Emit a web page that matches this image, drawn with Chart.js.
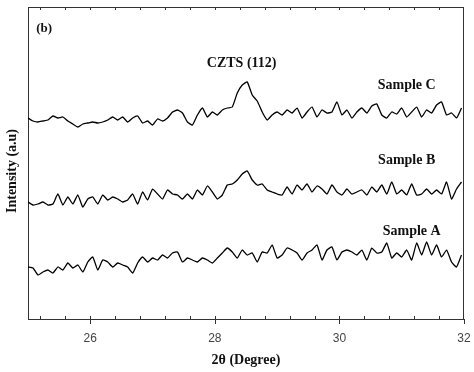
<!DOCTYPE html>
<html>
<head>
<meta charset="utf-8">
<script src="https://cdn.jsdelivr.net/npm/chart.js@4.4.0/dist/chart.umd.min.js"></script>
<style>
body { margin: 0; background: #fff; }
#wrap { width: 474px; height: 372px; }
</style>
</head>
<body>
<div id="wrap"><canvas id="xrd" width="474" height="372"></canvas></div>
<script>
// 2theta grid (degree)
const twoTheta = [
  25.00, 25.08, 25.16, 25.24, 25.32, 25.40, 25.48, 25.56, 25.64, 25.72,
  25.80, 25.88, 25.96, 26.04, 26.12, 26.20, 26.28, 26.36, 26.44, 26.52,
  26.60, 26.68, 26.76, 26.84, 26.92, 27.00, 27.08, 27.16, 27.24, 27.32,
  27.40, 27.48, 27.56, 27.64, 27.72, 27.80, 27.88, 27.96, 28.04, 28.12,
  28.20, 28.28, 28.36, 28.44, 28.52, 28.60, 28.68, 28.76, 28.84, 28.92,
  29.00, 29.08, 29.16, 29.24, 29.32, 29.40, 29.48, 29.56, 29.64, 29.72,
  29.80, 29.88, 29.96, 30.04, 30.12, 30.20, 30.28, 30.36, 30.44, 30.52,
  30.60, 30.68, 30.76, 30.84, 30.92, 31.00, 31.08, 31.16, 31.24, 31.32,
  31.40, 31.48, 31.56, 31.64, 31.72, 31.80, 31.88, 31.96
]

// intensities (a.u., offset stacked)
const sampleA = [
  52, 51, 44, 47, 49, 46, 52, 49, 56, 51,
  54, 47, 57, 62, 49, 59, 57, 52, 56, 54,
  52, 46, 56, 62, 57, 61, 59, 64, 61, 66,
  67, 57, 61, 59, 57, 61, 59, 56, 61, 66,
  71, 67, 61, 69, 64, 66, 57, 67, 66, 74,
  61, 64, 71, 69, 66, 59, 66, 69, 74, 59,
  69, 72, 59, 67, 69, 67, 64, 69, 59, 71,
  66, 67, 76, 61, 66, 62, 69, 59, 76, 64,
  77, 64, 74, 62, 69, 57, 52, 64
]
const sampleB = [
  117, 114, 115, 117, 114, 115, 125, 114, 122, 115,
  124, 112, 120, 122, 115, 124, 119, 122, 120, 117,
  119, 125, 115, 127, 119, 130, 125, 120, 129, 125,
  124, 120, 125, 120, 129, 124, 133, 127, 120, 124,
  134, 135, 139, 145, 148, 139, 134, 135, 129, 127,
  125, 124, 132, 125, 134, 129, 135, 127, 133, 130,
  125, 134, 127, 124, 130, 125, 127, 129, 124, 132,
  127, 134, 125, 137, 125, 129, 124, 135, 124, 125,
  130, 125, 129, 125, 137, 120, 130, 137
]
const sampleC = [
  201, 198, 197, 198, 199, 203, 201, 202, 198, 195,
  192, 195, 196, 197, 196, 197, 199, 202, 199, 202,
  197, 201, 203, 196, 198, 194, 200, 198, 201, 207,
  209, 206, 197, 194, 204, 211, 202, 207, 204, 209,
  211, 212, 226, 234, 237, 224, 218, 207, 199, 204,
  207, 204, 209, 206, 211, 201, 207, 212, 202, 209,
  206, 207, 217, 204, 209, 201, 207, 211, 206, 213,
  215, 204, 201, 207, 205, 211, 202, 207, 212, 202,
  209, 206, 214, 217, 204, 206, 201, 211
]

const majorTicks = [26, 28, 30, 32]

const toPoints = ys => ys.map((y, i) => ({ x: twoTheta[i], y: y }))

const serif = '"Liberation Serif", "Times New Roman", serif'

// box, inner minor ticks, outer major ticks and the text labels
const frame = {
  id: 'frame',
  afterDraw(chart) {
    const ctx = chart.ctx
    const a = chart.chartArea
    const xs = chart.scales.x
    const ys = chart.scales.y
    ctx.save()
    ctx.strokeStyle = '#333'
    ctx.lineWidth = 1
    ctx.beginPath()
    ctx.moveTo(a.left, a.top + 0.5)
    ctx.lineTo(a.right, a.top + 0.5)
    ctx.moveTo(a.right - 0.5, a.top)
    ctx.lineTo(a.right - 0.5, a.bottom)
    for (let k = 0; k < 17; k++) {
      const px = Math.round(xs.getPixelForValue(25.2 + 0.4 * k)) + 0.5
      ctx.moveTo(px, a.bottom)
      ctx.lineTo(px, a.bottom - 3)
      ctx.moveTo(px, a.top)
      ctx.lineTo(px, a.top + 3)
    }
    majorTicks.forEach(t => {
      const px = Math.round(xs.getPixelForValue(t)) + 0.5
      ctx.moveTo(px, a.bottom)
      ctx.lineTo(px, a.bottom + 5)
    })
    ctx.stroke()

    ctx.fillStyle = '#111'
    ctx.textAlign = 'center'
    ctx.textBaseline = 'middle'
    const put = (txt, x, y) => ctx.fillText(txt, xs.getPixelForValue(x), ys.getPixelForValue(y))
    ctx.font = 'bold 14px ' + serif
    put('CZTS (112)', 28.43, 256)
    put('Sample C', 31.08, 234)
    put('Sample B', 31.08, 159)
    put('Sample A', 31.16, 88)
    ctx.font = 'bold 13px ' + serif
    put('(b)', 25.26, 290)

    // y title, sits a little below the middle in the original
    ctx.translate(12, ys.getPixelForValue(148))
    ctx.rotate(-Math.PI / 2)
    ctx.font = 'bold 14px ' + serif
    ctx.fillText('Intensity (a.u)', 0, 0)
    ctx.restore()
  }
}

const line = (label, ys) => ({
  label: label,
  data: toPoints(ys),
  borderColor: '#000',
  borderWidth: 1.3,
  pointRadius: 0,
  tension: 0.15,
  fill: false
})

const myChart = new Chart(document.getElementById('xrd'), {
  type: 'line',
  data: {
    datasets: [
      line('Sample A', sampleA),
      line('Sample B', sampleB),
      line('Sample C', sampleC)
    ]
  },
  plugins: [frame],
  options: {
    responsive: false,
    animation: false,
    layout: { padding: { top: 7, right: 10, left: 0, bottom: 0 } },
    plugins: { legend: { display: false }, tooltip: { enabled: false } },
    scales: {
      x: {
        type: 'linear',
        min: 25,
        max: 32,
        afterBuildTicks: s => { s.ticks = majorTicks.map(v => ({ value: v })) },
        afterFit: s => { s.height = 53; s.paddingRight = 0; s.paddingLeft = 0 },
        grid: { display: true, drawOnChartArea: false, drawTicks: false },
        border: { display: true, color: '#333', width: 1 },
        ticks: {
          padding: 12,
          color: '#444',
          maxRotation: 0,
          autoSkip: false,
          font: { family: '"Liberation Sans", Arial, sans-serif', size: 12 }
        },
        title: {
          display: true,
          text: '2θ (Degree)',
          color: '#111',
          font: { family: serif, size: 14, weight: 'bold' },
          padding: { top: 0, bottom: 3 }
        }
      },
      y: {
        min: 0,
        max: 312,
        afterFit: s => { s.width = 28 },
        ticks: { display: false },
        grid: { display: true, drawOnChartArea: false, drawTicks: false },
        border: { display: true, color: '#333', width: 1 },
        title: { display: false }
      }
    }
  }
})
</script>
</body>
</html>
